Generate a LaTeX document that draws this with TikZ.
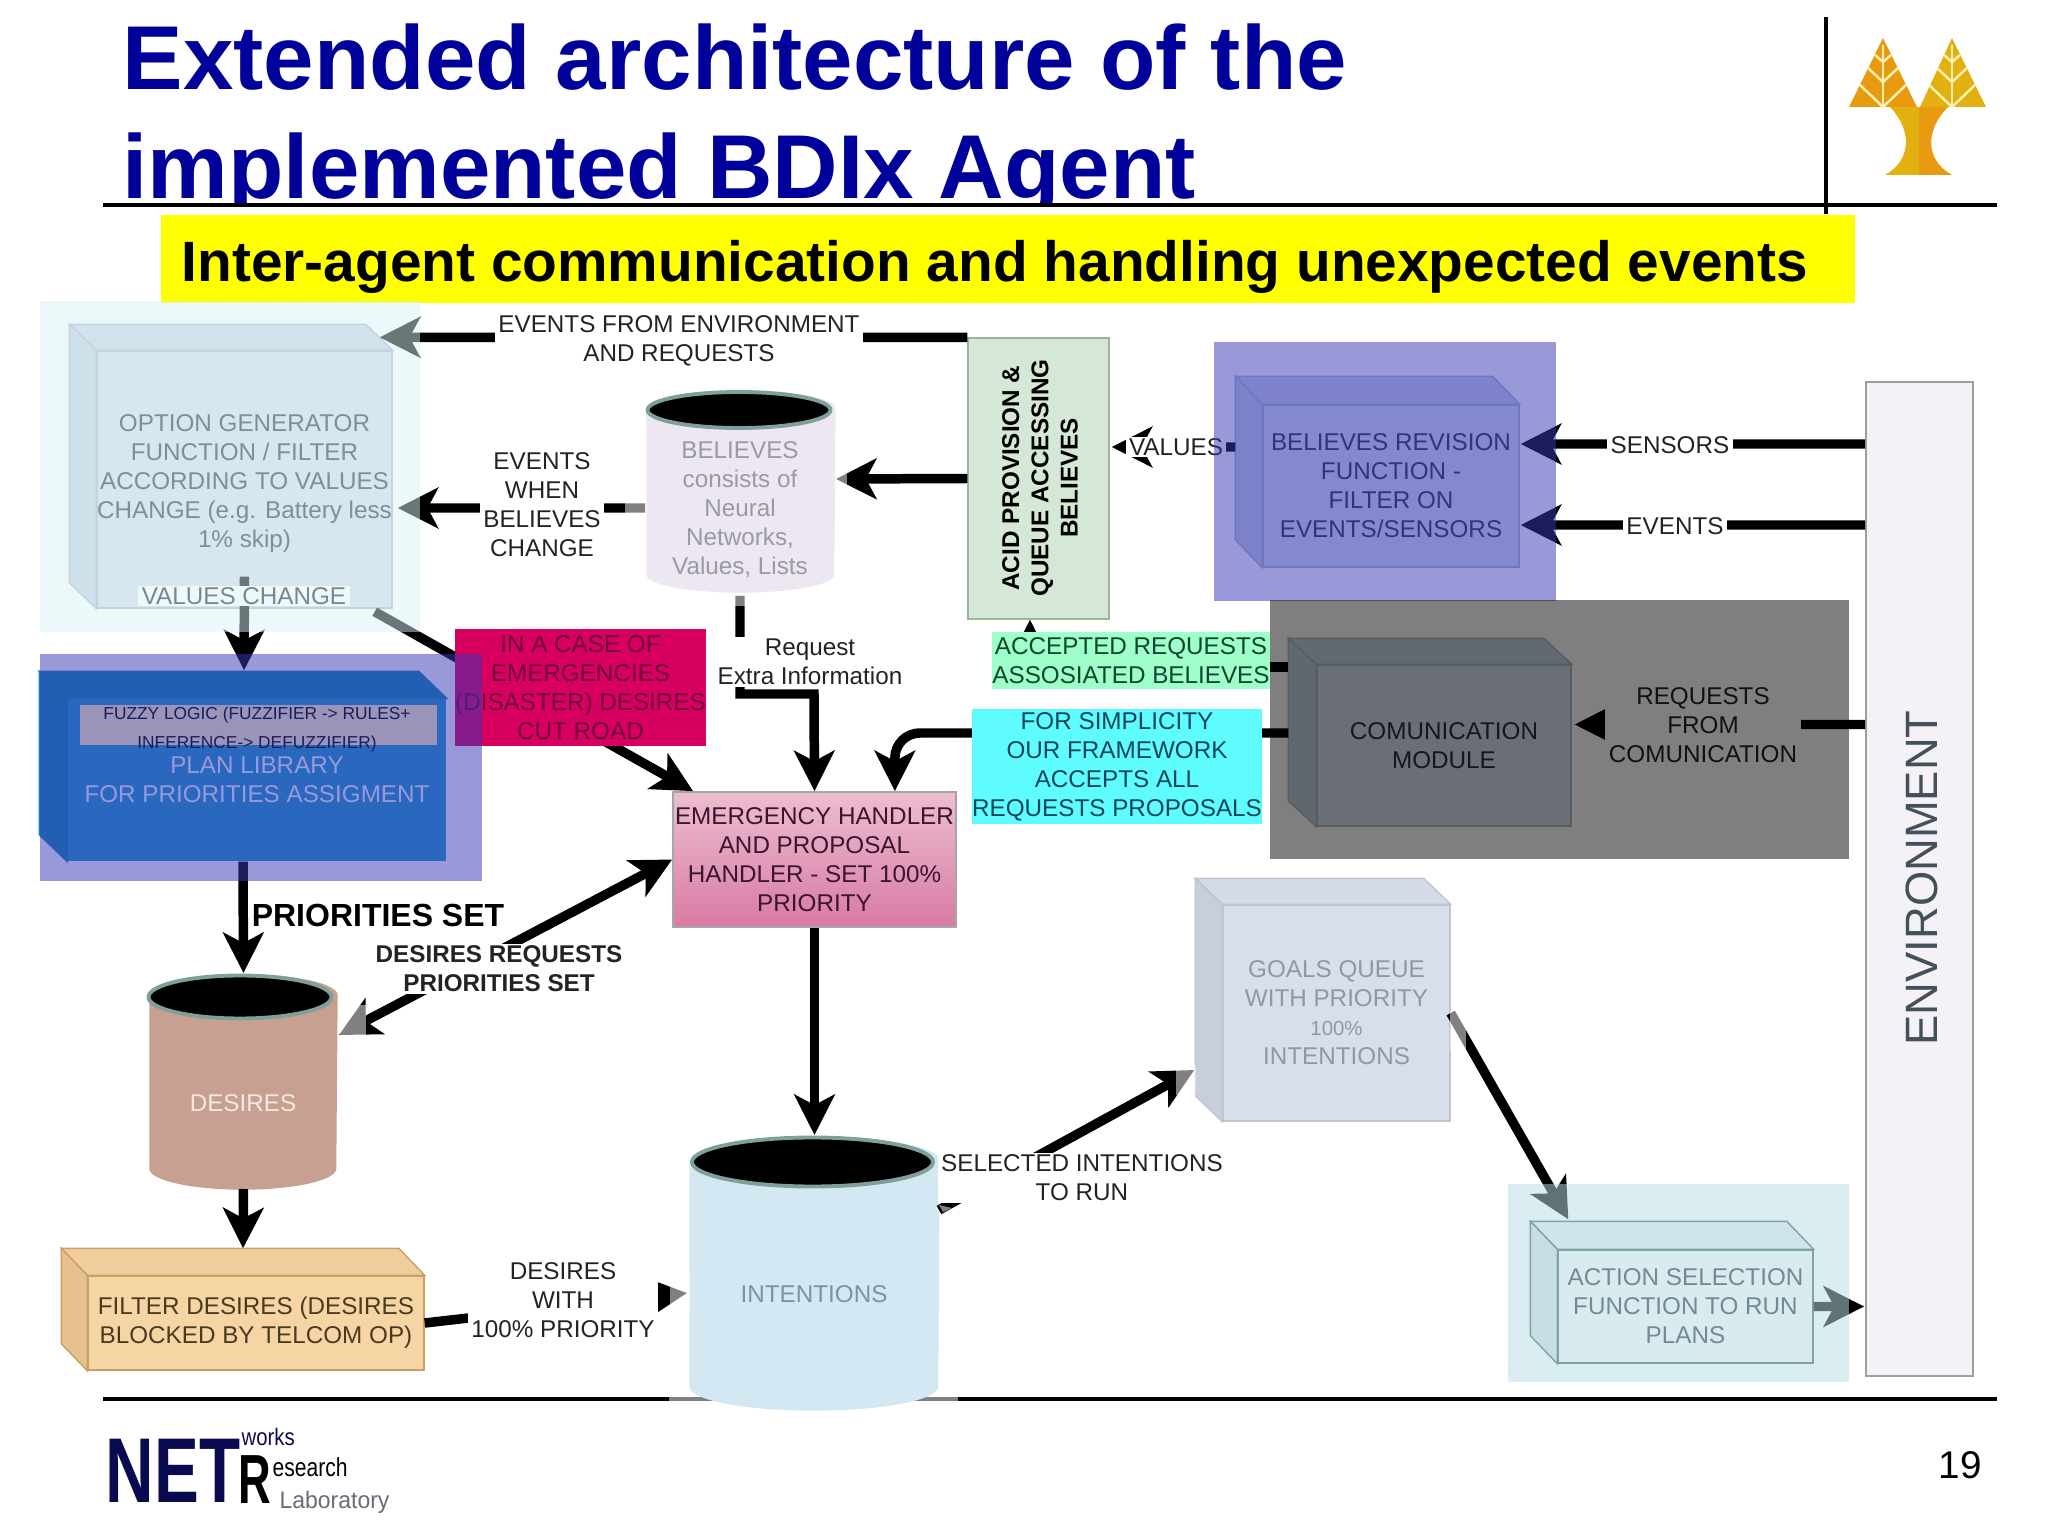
\documentclass[tikz,border=0pt]{standalone}
\usepackage{fontspec}
\usepackage{xcolor}
\usepackage{tikz}
\usetikzlibrary{calc, shapes.geometric, arrows.meta, positioning}
\setmainfont{Liberation Sans}
\definecolor{TitleBlue}{RGB}{0, 0, 154}
\definecolor{BannerYellow}{RGB}{255, 255, 0}
\definecolor{TextDark}{RGB}{35, 35, 35}
\definecolor{CubeFront}{RGB}{214, 222, 236}
\definecolor{CubeTop}{RGB}{200, 212, 228}
\definecolor{CubeSide}{RGB}{196, 208, 224}
\definecolor{CubeEdge}{RGB}{170, 185, 205}
\definecolor{CubeText}{RGB}{39, 49, 65}
\definecolor{PlanFront}{RGB}{28, 155, 202}
\definecolor{PlanSide}{RGB}{14, 137, 180}
\definecolor{FuzzyBar}{RGB}{255, 245, 190}
\definecolor{GoalsEdge}{RGB}{190, 198, 210}
\definecolor{GoalsTop}{RGB}{213, 219, 228}
\definecolor{GoalsSide}{RGB}{200, 207, 217}
\definecolor{GoalsFront}{RGB}{216, 223, 233}
\definecolor{GoalsText}{RGB}{145, 152, 164}
\definecolor{ActionEdge}{RGB}{70, 100, 110}
\definecolor{ActionFront}{RGB}{250, 252, 252}
\definecolor{ActionTop}{RGB}{233, 239, 244}
\definecolor{ActionSide}{RGB}{217, 225, 231}
\definecolor{FilterEdge}{RGB}{200, 160, 96}
\definecolor{FilterFront}{RGB}{246, 213, 165}
\definecolor{FilterTop}{RGB}{240, 205, 156}
\definecolor{FilterSide}{RGB}{232, 192, 143}
\definecolor{FilterText}{RGB}{74, 58, 32}
\definecolor{BelievesBody}{RGB}{236, 231, 240}
\definecolor{BelievesText}{RGB}{154, 154, 165}
\definecolor{DesiresBody}{RGB}{200, 160, 145}
\definecolor{DesiresText}{RGB}{245, 232, 224}
\definecolor{IntentBody}{RGB}{211, 232, 243}
\definecolor{IntentText}{RGB}{127, 147, 158}
\definecolor{AcidEdge}{RGB}{154, 181, 154}
\definecolor{AcidFill}{RGB}{213, 231, 214}
\definecolor{EnvFill}{RGB}{244, 242, 246}
\definecolor{EnvText}{RGB}{68, 80, 90}
\definecolor{EmergTop}{RGB}{236, 190, 208}
\definecolor{EmergBottom}{RGB}{216, 122, 163}
\definecolor{EmergText}{RGB}{60, 20, 50}
\definecolor{CrisisFill}{RGB}{216, 0, 94}
\definecolor{CrisisText}{RGB}{110, 0, 60}
\definecolor{CyanFill}{RGB}{95, 252, 255}
\definecolor{CyanText}{RGB}{10, 70, 90}
\definecolor{MintFill}{RGB}{158, 255, 200}
\definecolor{MintText}{RGB}{15, 70, 50}
\definecolor{RimTeal}{RGB}{127, 159, 154}
\definecolor{VeilPale}{RGB}{218, 241, 245}
\definecolor{VeilTeal}{RGB}{185, 220, 228}
\definecolor{VeilBlue}{RGB}{55, 55, 180}
\definecolor{TreeDark}{RGB}{232, 154, 16}
\definecolor{TreeLight}{RGB}{227, 176, 18}
\definecolor{TreeVein}{RGB}{253, 240, 176}
\definecolor{LogoNavy}{RGB}{10, 10, 80}
\definecolor{LogoGrey}{RGB}{106, 106, 122}
\tikzset{
  bigtip/.tip={Stealth[length=11.5pt,width=11.5pt,inset=3pt]},
  bigarrow/.style={line width=2.7pt, -bigtip},
  cubeface/.style={draw=CubeEdge, line width=.4pt, fill=CubeFront, text=CubeText},
  rim/.style={ellipse, draw=RimTeal, line width=1.1pt, fill=black},
  lbl/.style={fill=white, text=TextDark, inner xsep=1pt, inner ysep=.5pt},
  tint/.style={fill=white, opacity=.5}
}
\newcommand{\cubesides}[6][CubeEdge]{
  \draw[draw=#1, line width=.4pt, fill=#5] (#2.north west) -- ++(-#3,#4) -- ($(#2.north east)+(-#3,#4)$) -- (#2.north east) -- cycle;
  \draw[draw=#1, line width=.4pt, fill=#6] (#2.north west) -- ++(-#3,#4) -- ($(#2.south west)+(-#3,#4)$) -- (#2.south west) -- cycle;
}
\newcommand{\storebody}[4]{
  \fill[#4] ([yshift=-#3 cm]#1.north west) -- ([yshift=#3 cm]#1.south west) arc[start angle=180, end angle=360, x radius=#2, y radius=#3] -- ([yshift=-#3 cm]#1.north east) arc[start angle=0, end angle=180, x radius=#2, y radius=#3] -- cycle;
}
\begin{document}
\begin{tikzpicture}[every node/.style={font=\fontsize{6.9}{8.25}\selectfont, align=center, inner sep=0pt}]
  \useasboundingbox (0,0) rectangle (20.48,-15.36);
  % slide frame
  \begin{scope}
    \clip (0,0) rectangle (17,-2.05);
    \node[anchor=west, align=left, text=TitleBlue, font=\fontsize{25.8}{30.9}\selectfont\bfseries] (title) at (1.22,-1.21) {Extended architecture of the\\implemented BDIx Agent};
  \end{scope}
  \draw[line width=1.1pt] (1.03,-2.05) -- (19.97,-2.05);
  \draw[line width=1.1pt] (18.26,-.17) -- (18.26,-2.14);
  \draw[line width=1.1pt] (1.03,-13.99) -- (19.97,-13.99);
  \fill[tint] (6.69,-13.9) rectangle (9.58,-14.08);
  \node[anchor=west, fill=BannerYellow, minimum width=16.94cm, minimum height=.88cm] (banner) at (1.60,-2.59) {};
  \node[anchor=west, font=\fontsize{16.17}{19}\selectfont\bfseries] (bannertext) at (1.81,-2.67) {Inter-agent communication and handling unexpected events};

  % cubes
  \node[cubeface, minimum width=2.95cm, minimum height=2.57cm] (optbox) at (2.445,-4.795) {\rule{0pt}{.26cm}OPTION GENERATOR\\FUNCTION / FILTER\\ACCORDING TO VALUES\\CHANGE (e.g. Battery less\\1\% skip)};
  \cubesides{optbox}{.27}{.26}{CubeTop}{CubeSide}
  \node[fill=PlanFront, text=white, minimum width=3.78cm, minimum height=1.62cm] (planbox) at (2.57,-7.80) {PLAN LIBRARY\\FOR PRIORITIES ASSIGMENT};
  \cubesides[PlanSide]{planbox}{.28}{.27}{PlanSide}{PlanSide}
  \node[fill=FuzzyBar, minimum width=3.57cm, minimum height=.40cm] (fuzzybar) at (2.585,-7.25) {};
  \node[text=black, font=\fontsize{4.93}{8.25}\selectfont] (fuzzytext) at (2.57,-7.30) {FUZZY LOGIC (FUZZIFIER -> RULES+\\INFERENCE-> DEFUZZIFIER)};
  \node[cubeface, minimum width=2.56cm, minimum height=1.62cm] (revbox) at (13.91,-4.86) {BELIEVES REVISION\\FUNCTION -\\FILTER ON\\EVENTS/SENSORS};
  \cubesides{revbox}{.27}{.28}{CubeTop}{CubeSide}
  \node[cubeface, minimum width=2.54cm, minimum height=1.61cm] (commbox) at (14.44,-7.455) {COMUNICATION\\MODULE};
  \cubesides{commbox}{.28}{.26}{CubeTop}{CubeSide}
  \node[draw=GoalsEdge, line width=.4pt, fill=GoalsFront, text=GoalsText, minimum width=2.27cm, minimum height=2.16cm] (goalsbox) at (13.365,-10.13) {GOALS QUEUE\\WITH PRIORITY\\{\fontsize{5.8}{8.25}\selectfont 100\%}\\INTENTIONS};
  \cubesides[GoalsEdge]{goalsbox}{.27}{.26}{GoalsTop}{GoalsSide}
  \node[cubeface, draw=ActionEdge, fill=ActionFront, minimum width=2.55cm, minimum height=1.13cm] (actionbox) at (16.855,-13.065) {ACTION SELECTION\\FUNCTION TO RUN\\PLANS};
  \cubesides[ActionEdge]{actionbox}{.27}{.28}{ActionTop}{ActionSide}
  \node[draw=FilterEdge, line width=.4pt, fill=FilterFront, text=FilterText, minimum width=3.36cm, minimum height=.94cm] (filterbox) at (2.56,-13.23) {FILTER DESIRES (DESIRES\\BLOCKED BY TELCOM OP)};
  \cubesides[FilterEdge]{filterbox}{.26}{.27}{FilterTop}{FilterSide}

  % stores
  \node[minimum width=1.88cm, minimum height=2.01cm] (believes) at (7.41,-4.915) {};
  \storebody{believes}{.94}{.18}{BelievesBody}
  \node[rim, minimum width=1.83cm, minimum height=.36cm] (believesrim) at (7.39,-4.10) {};
  \node[text=BelievesText] (believestext) at (7.40,-5.10) {BELIEVES\\consists of\\Neural\\Networks,\\Values, Lists};
  \node[minimum width=1.87cm, minimum height=2.14cm] (desires) at (2.435,-10.82) {};
  \storebody{desires}{.935}{.21}{DesiresBody}
  \node[rim, minimum width=1.83cm, minimum height=.43cm] (desiresrim) at (2.40,-9.97) {};
  \node[text=DesiresText] (desirestext) at (2.43,-11.03) {DESIRES};
  \node[minimum width=2.49cm, minimum height=2.73cm] (intentions) at (8.145,-12.735) {};
  \storebody{intentions}{1.245}{.24}{IntentBody}
  \node[rim, minimum width=2.41cm, minimum height=.49cm] (intentionsrim) at (8.125,-11.62) {};
  \node[text=IntentText] (intentionstext) at (8.14,-12.94) {INTENTIONS};

  % plain boxes
  \node[draw=AcidEdge, line width=.4pt, fill=AcidFill, minimum width=1.41cm, minimum height=2.81cm] (acid) at (10.385,-4.785) {};
  \node[rotate=90, text=black, font=\fontsize{6.9}{8.35}\selectfont\bfseries] (acidtext) at (10.40,-4.78) {ACID PROVISION \&\\QUEUE ACCESSING\\BELIEVES};
  \node[draw=gray!75, line width=.5pt, fill=EnvFill, minimum width=1.07cm, minimum height=9.94cm] (env) at (19.195,-8.79) {};
  \node[rotate=90, text=EnvText, font=\fontsize{12.9}{15}\selectfont] (envtext) at (19.22,-8.78) {ENVIRONMENT};
  \node[draw=gray!70, line width=.5pt, top color=EmergTop, bottom color=EmergBottom, text=EmergText, minimum width=2.83cm, minimum height=1.35cm] (emerg) at (8.145,-8.595) {EMERGENCY HANDLER\\AND PROPOSAL\\HANDLER - SET 100\%\\PRIORITY};

  % connectors
  \draw[bigarrow] (acid.north west) -- ([shift={(-.13,.13)}]optbox.north east);
  \draw[bigarrow] (acid.west) -- ([shift={(.95,.125)}]believes.center);
  \draw[bigarrow] ([shift={(-.96,-.165)}]believes.center) -- ([shift={(.05,-.285)}]optbox.east);
  \draw[bigarrow] ([yshift=.32cm]optbox.south) -- ([shift={(-.13,.28)}]planbox.north);
  \draw[bigarrow] ([shift={(-.18,-.03)}]optbox.south east) -- ([xshift=.21cm]emerg.north west);
  \draw[bigarrow] ([xshift=-.14cm]planbox.south) -- ([yshift=1.09cm]desires.center);
  \draw[bigarrow] ([yshift=-1.07cm]desires.center) -- ([shift={(-.13,.27)}]filterbox.north);
  \draw[bigarrow] (filterbox.east) -- ([shift={(-1.275,-.195)}]intentions.center);
  \draw[line width=2.7pt, bigtip-bigtip] ([shift={(.955,.47)}]desires.center) -- (emerg.west);
  \draw[bigarrow] (emerg.south) -- ([yshift=1.385cm]intentions.center);
  \draw[bigarrow] ([shift={(-.01,-1.045)}]believes.center) -- ++(0,-.98) -- ++(.74,0) -- (emerg.north);
  \draw[bigarrow, rounded corners=.25cm] ([shift={(-.28,.125)}]commbox.west) -| ([xshift=-.62cm]emerg.north east);
  \draw[bigarrow] ([shift={(-.28,.785)}]commbox.west) -| ([xshift=-.085cm]acid.south);
  \draw[bigarrow] ([shift={(-.27,.39)}]revbox.west) -- ([shift={(.02,.315)}]acid.east);
  \draw[bigarrow] ([yshift=4.35cm]env.west) -- ([shift={(.01,.42)}]revbox.east);
  \draw[bigarrow] ([yshift=3.54cm]env.west) -- ([shift={(.01,-.39)}]revbox.east);
  \draw[bigarrow] ([yshift=1.545cm]env.west) -- ([shift={(.03,.21)}]commbox.east);
  \draw[bigarrow] ([shift={(1.245,.635)}]intentions.center) -- ([shift={(-.28,-.57)}]goalsbox.west);
  \draw[bigarrow] (goalsbox.east) -- ([shift={(.11,.30)}]actionbox.north west);
  \draw[bigarrow] (actionbox.east) -- ([shift={(-.01,-4.275)}]env.west);

  % labels on the connectors
  \node[lbl] (evfromlbl) at (6.79,-3.41) {EVENTS FROM ENVIRONMENT\\AND REQUESTS};
  \node[lbl] (evwhenlbl) at (5.42,-5.05) {EVENTS\\WHEN\\BELIEVES\\CHANGE};
  \node[lbl] (valchglbl) at (2.44,-5.96) {VALUES CHANGE};
  \node[lbl] (requestlbl) at (8.10,-6.62) {Request\\Extra Information};
  \node[lbl] (valueslbl) at (11.76,-4.47) {VALUES};
  \node[lbl] (sensorslbl) at (16.70,-4.45) {SENSORS};
  \node[lbl] (eventslbl) at (16.75,-5.26) {EVENTS};
  \node[lbl] (reqfromlbl) at (17.03,-7.25) {REQUESTS\\FROM\\COMUNICATION};
  \node[text=black, font=\fontsize{9.1}{11}\selectfont\bfseries] (prioritylbl) at (3.78,-9.15) {PRIORITIES SET};
  \node[lbl, font=\fontsize{6.9}{8.25}\selectfont\bfseries] (desreqlbl) at (4.99,-9.69) {DESIRES REQUESTS\\PRIORITIES SET};
  \node[lbl] (deswithlbl) at (5.63,-13.00) {DESIRES\\WITH\\100\% PRIORITY};
  \node[lbl] (selectlbl) at (10.82,-11.78) {SELECTED INTENTIONS\\TO RUN};
  \node[fill=CrisisFill, text=CrisisText, minimum width=2.49cm, minimum height=1.17cm] (crisis) at (5.805,-6.875) {IN A CASE OF\\EMERGENCIES\\(DISASTER) DESIRES\\CUT ROAD};
  \node[fill=CyanFill, text=CyanText, minimum width=2.86cm, minimum height=1.15cm] (simple) at (11.17,-7.665) {FOR SIMPLICITY\\OUR FRAMEWORK\\ACCEPTS ALL\\REQUESTS PROPOSALS};
  \node[fill=MintFill, text=MintText, minimum width=2.76cm, minimum height=.57cm] (accepted) at (11.31,-6.605) {ACCEPTED REQUESTS\\ASSOSIATED BELIEVES};
  \fill[gray] (9.39,-12.05) -- (9.52,-12.08) -- (9.43,-12.12) -- cycle;

  % pale patches beside the stores
  \foreach \xa/\ya/\xb/\yb in {6.25/-4.95/6.46/-5.2, 8.36/-4.6/8.47/-5.0, 7.3/-5.96/7.5/-6.06, 6.70/-12.7/6.9/-13.1, 3.40/-10.05/3.66/-10.35, 11.76/-10.65/11.96/-10.95, 14.50/-10.1/14.66/-10.5}
    \fill[tint] (\xa,\ya) rectangle (\xb,\yb);

  % veils over the groups
  \fill[VeilPale, opacity=.49] (.40,-3.01) rectangle (4.20,-6.32);
  \fill[VeilBlue, opacity=.51] (.40,-6.54) rectangle (4.82,-8.81);
  \fill[VeilBlue, opacity=.51] (12.14,-3.425) rectangle (15.56,-6.01);
  \fill[black, opacity=.5] (12.70,-6.00) rectangle (18.49,-8.59);
  \fill[VeilTeal, opacity=.52] (15.08,-11.84) rectangle (18.49,-13.82);

  % tree logo
  \fill[TreeDark] (18.83,-.38) -- (18.49,-1.07) -- (19.17,-1.07) -- cycle;
  \fill[TreeLight] (19.52,-.38) -- (19.20,-1.07) -- (19.86,-1.07) -- cycle;
  \fill[TreeLight] (18.90,-1.07) -- (19.19,-1.07) -- (19.19,-1.75) -- (18.85,-1.75) .. controls (19.12,-1.6) and (19.12,-1.3) .. (18.90,-1.07) -- cycle;
  \fill[TreeDark] (19.19,-1.07) -- (19.48,-1.07) .. controls (19.25,-1.3) and (19.25,-1.6) .. (19.52,-1.75) -- (19.19,-1.75) -- cycle;
  \foreach \cx in {18.83,19.52} {
    \draw[TreeVein, line width=.7pt] (\cx,-.45) -- (\cx,-1.07);
    \foreach \ay/\dx/\by in {-1.07/.23/-.85, -.82/.15/-.68, -.62/.08/-.55}
      \draw[TreeVein, line width=.7pt] (\cx-\dx,\by) -- (\cx,\ay) -- (\cx+\dx,\by);
  }

  % lab logo
  \node[anchor=base west, text=LogoNavy, font=\fontsize{26.2}{28}\selectfont\bfseries] (netword) at (1.05,-15.02) {\scalebox{.73}[1]{NET}};
  \node[anchor=base west, text=black, font=\fontsize{19.8}{22}\selectfont\bfseries] (rword) at (2.38,-15.03) {\scalebox{.65}[1]{R}};
  \node[anchor=base west, text=LogoNavy, font=\fontsize{6.8}{8}\selectfont] (worksword) at (2.41,-14.45) {\scalebox{.85}[1]{works}};
  \node[anchor=base west, text=black, font=\fontsize{7.4}{8}\selectfont] (esearchword) at (2.72,-14.76) {\scalebox{.81}[1]{esearch}};
  \node[anchor=base west, text=LogoGrey, font=\fontsize{6.8}{8}\selectfont] (labword) at (2.79,-15.08) {\scalebox{.96}[1]{Laboratory}};
  \node[text=black, font=\fontsize{11}{13}\selectfont] (pageno) at (19.60,-14.65) {19};
\end{tikzpicture}
\end{document}
